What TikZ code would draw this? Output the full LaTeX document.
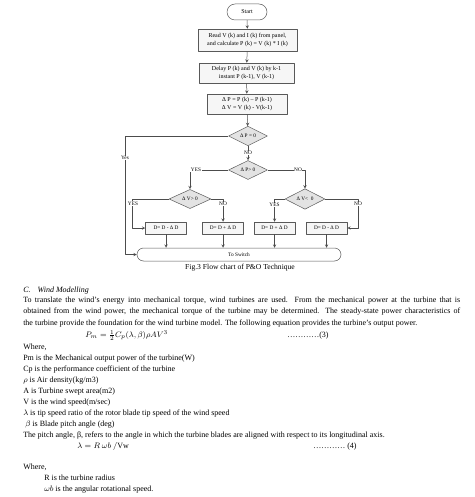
\documentclass[tikz,border=0pt]{standalone}
\usepackage{fontspec}
\setmainfont{Liberation Serif}
\usetikzlibrary{shapes.geometric,shapes.misc}
\begin{document}
\begin{tikzpicture}[x=1pt, y=-1pt, line join=round, >=stealth, line width=.5pt]
	\useasboundingbox (0,0) rectangle (474,497);
	\def\fc{\fontsize{6}{7.5}\selectfont}
	\def\fs{\fontsize{5.3}{6}\selectfont}
	\tikzset{
		term/.style={rounded rectangle, draw=gray!70!black, fill=white, font=\fc, inner sep=0pt},
		proc/.style={rectangle, draw=gray!70!black, fill=gray!7, font=\fc, align=center, inner sep=1pt},
		dec/.style={diamond, draw=gray!70!black, fill=gray!22, font=\fs, inner sep=0pt},
		upd/.style={rectangle, draw=gray!70!black, fill=gray!7, font=\fs, minimum width=41, minimum height=12, inner sep=0pt},
		lbl/.style={fill=white, font=\fs, inner sep=.5pt},
		link/.style={draw=gray!60!black},
		body/.style={anchor=base west, font=\fontsize{8}{10}\selectfont, inner sep=0pt},
	}
	% flow chart
	\node[term, minimum width=40, minimum height=16] (start) at (247,12) {Start};
	\node[proc, minimum width=99, minimum height=22] (read) at (247.5,40) {Read V (k) and I (k) from panel,\\and calculate P (k) = V (k) * I (k)};
	\node[proc, minimum width=95, minimum height=20] (delay) at (246.5,73) {Delay P (k) and V (k) by k-1\\instant P (k-1), V (k-1)};
	\node[proc, minimum width=80, minimum height=20] (diff) at (247,104) {Δ P = P (k) – P (k-1)\\Δ V = V (k) - V(k-1)};
	\node[dec, minimum width=39, minimum height=17] (dPzero) at (248,136) {Δ P = 0};
	\node[dec, minimum width=39, minimum height=19] (dPpos) at (248,170) {Δ P> 0};
	\node[dec, minimum width=42, minimum height=18] (dVpos) at (190,199) {Δ V> 0};
	\node[dec, minimum width=40, minimum height=18] (dVneg) at (305,199) {Δ V< \ 0};
	\foreach \n/\x/\t in {decA/166/{D= D - Δ D}, incA/223/{D= D + Δ D}, incB/274.5/{D= D + Δ D}, decB/326.5/{D= D - Δ D}}
		\node[upd] (\n) at (\x,228) {\t};
	\node[term, minimum width=204, minimum height=13, font=\fs] (sw) at (239,254.5) {To Switch};
	\node[font=\fontsize{7.6}{9}\selectfont] (cap) at (240,268) {Fig.3 Flow chart of P\&O Technique};
	\coordinate (yescorner) at (125,136);
	\draw[link,->] (start) -- (read);
	\draw[link,->] (read) -- (delay);
	\draw[link,->] (delay) -- (diff);
	\draw[link,->] (diff) -- (dPzero);
	\draw[link,->] (dPzero) -- node[lbl] {NO} (dPpos);
	\draw[link,->] (dPzero.west) -- (yescorner) |- (sw.west);
	\node[lbl] (yes) at (125,158) {Yes};
	\draw[link,->] (dPpos.west) -- (dPpos.west -| dVpos.north) -- (dVpos.north);
	\node[lbl] (yesA) at (196,170) {YES};
	\draw[link,->] (dPpos.east) -- (dPpos.east -| dVneg.north) -- (dVneg.north);
	\node[lbl] (noA) at (298,170) {NO};
	\draw[link,->] (dVpos.west) -- ++(-37,0) |- (decA.west);
	\node[lbl] (yesB) at (133,203.5) {YES};
	\draw[link,->] (dVpos.east) -- (dVpos.east -| incA.north) -- (incA.north);
	\node[lbl] (noB) at (223,204) {NO};
	\draw[link,->] (dVneg.west) -- (dVneg.west -| incB.north) -- (incB.north);
	\node[lbl] (yesC) at (274.5,205) {YES};
	\draw[link,->] (dVneg.east) -- ++(33,0) |- (decB.east);
	\node[lbl] (noC) at (358,204) {NO};
	\foreach \n in {decA,incA,incB,decB}
		\draw[link,->] (\n.south) -- (\n.south |- sw.north);
	% text
	\node[body, font=\fontsize{8}{10}\selectfont\itshape] (title) at (23,292.5) {C.\hspace{7pt}Wind Modelling};
	\node[body] (parA) at (23,302) {\makebox[437pt][s]{To translate the wind's energy into mechanical torque, wind turbines are used. From the mechanical power at the turbine that is}};
	\node[body] (parB) at (23,313.5) {\makebox[437pt][s]{obtained from the wind power, the mechanical torque of the turbine may be determined. The steady-state power characteristics of}};
	\node[body] (parC) at (23,325) {the turbine provide the foundation for the wind turbine model. The following equation provides the turbine's output power.};
	\node[body] (eqthree) at (85,337.5) {$P_m = \frac{1}{2}C_p(\lambda,\beta)\rho AV^3$};
	\node[body] (numthree) at (287,337.5) {…………(3)};
	\node[body] (whereA) at (23,349.5) {Where,};
	\foreach \n/\t [count=\i from 0] in {
		pm/{Pm is the Mechanical output power of the turbine(W)},
		cp/{Cp is the performance coefficient of the turbine},
		rho/{$\rho$ is Air density(kg/m3)},
		area/{A is Turbine swept area(m2)},
		speed/{V is the wind speed(m/sec)},
		lam/{$\lambda$ is tip speed ratio of the rotor blade tip speed of the wind speed},
		beta/{\hspace{2pt}$\beta$ is Blade pitch angle (deg)},
		pitch/{The pitch angle, β, refers to the angle in which the turbine blades are aligned with respect to its longitudinal axis.}}
		\node[body] (\n) at (23,360.5+11*\i) {\t};
	\node[body] (eqfour) at (77,448.5) {$\lambda = R\ \omega b\ /$Vw};
	\node[body] (numfour) at (313,448.5) {………… (4)};
	\node[body] (whereB) at (23,469.5) {Where,};
	\node[body] (radius) at (44,480.5) {R is the turbine radius};
	\node[body] (omega) at (44,491.5) {$\omega b$ is the angular rotational speed.};
\end{tikzpicture}
\end{document}
